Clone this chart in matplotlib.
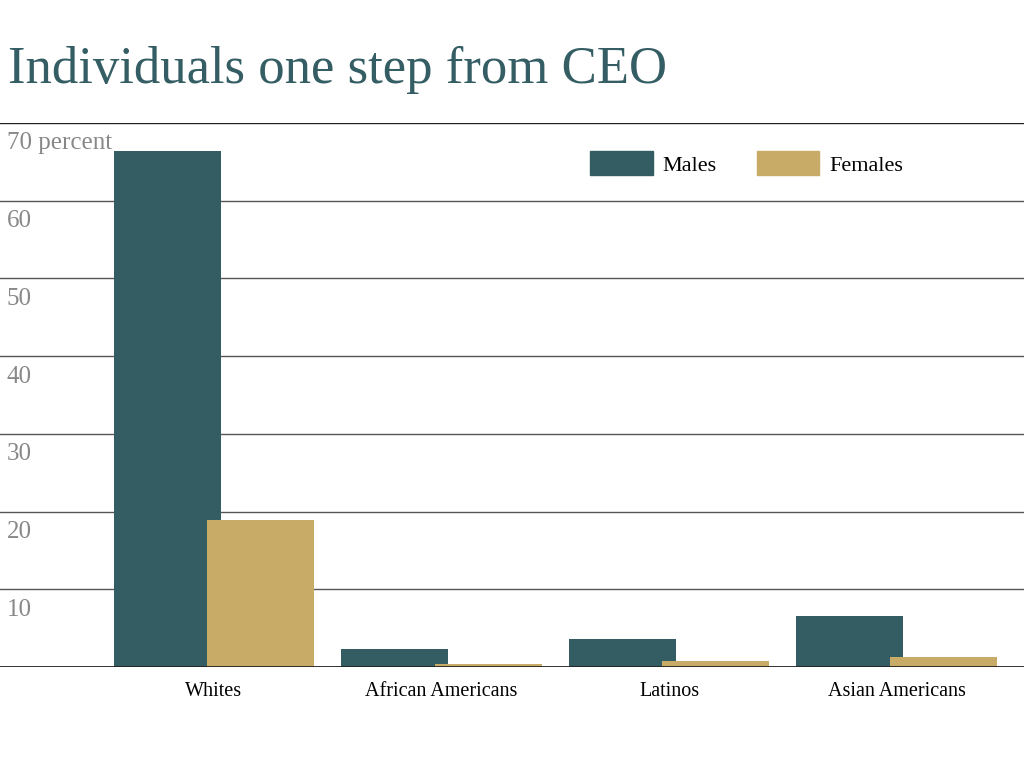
import numpy as np
import matplotlib.pyplot as plt
from matplotlib.patches import Patch

categories = ["Whites", "African Americans", "Latinos", "Asian Americans"]
males = [66.4, 2.3, 3.6, 6.6]
females = [18.9, 0.4, 0.8, 1.3]
y_ticks = [10, 20, 30, 40, 50, 60, 70]
y_labels = ["10", "20", "30", "40", "50", "60", "70 percent"]

male_col = "#335c63"
female_col = "#c8ab66"
serif = ["Liberation Serif", "DejaVu Serif"]

fig = plt.figure(figsize=(10.24, 7.67), dpi=100)
ax = fig.add_axes([0, 0.1304, 1, 0.7092])

x = np.arange(len(categories))
width = 0.47
off = 0.205
ax.bar(x - off, males, width, color=male_col, zorder=3)
ax.bar(x + off, females, width, color=female_col, zorder=4)

ax.set_xlim(-0.94, 3.56)
ax.set_ylim(0, 70)
for t in y_ticks:
    ax.axhline(t, color="#555555" if t < 70 else "#222222", lw=1.0, zorder=1)
ax.axhline(0, color="#222222", lw=1.3, zorder=5)

ax.set_xticks([])
ax.set_yticks([])
for s in ax.spines.values():
    s.set_visible(False)

for t, lab in zip(y_ticks, y_labels):
    ax.annotate(lab, xy=(0, t), xycoords=("axes fraction", "data"),
                xytext=(5, -19), textcoords="offset points",
                ha="left", va="baseline", fontsize=18, color="#888888",
                family=serif)

for xi, c in zip(x, categories):
    ax.annotate(c, xy=(xi, 0), xycoords="data", xytext=(0, -11),
                textcoords="offset points", ha="center", va="top",
                fontsize=14.5, color="black", family=serif)

fig.text(0.008, 0.892, "Individuals one step from CEO", fontsize=38,
         color="#345d64", family=serif, ha="left", va="baseline")

handles = [Patch(color=male_col, label="Males"),
           Patch(color=female_col, label="Females")]
ax.legend(handles=handles, loc="upper left", bbox_to_anchor=(0.557, 0.985),
          ncol=2, frameon=False, handlelength=2.8, handleheight=1.3,
          handletextpad=0.45, columnspacing=1.8,
          prop={"family": serif, "size": 16})

fig.savefig("out.png", dpi=100, facecolor="white")
